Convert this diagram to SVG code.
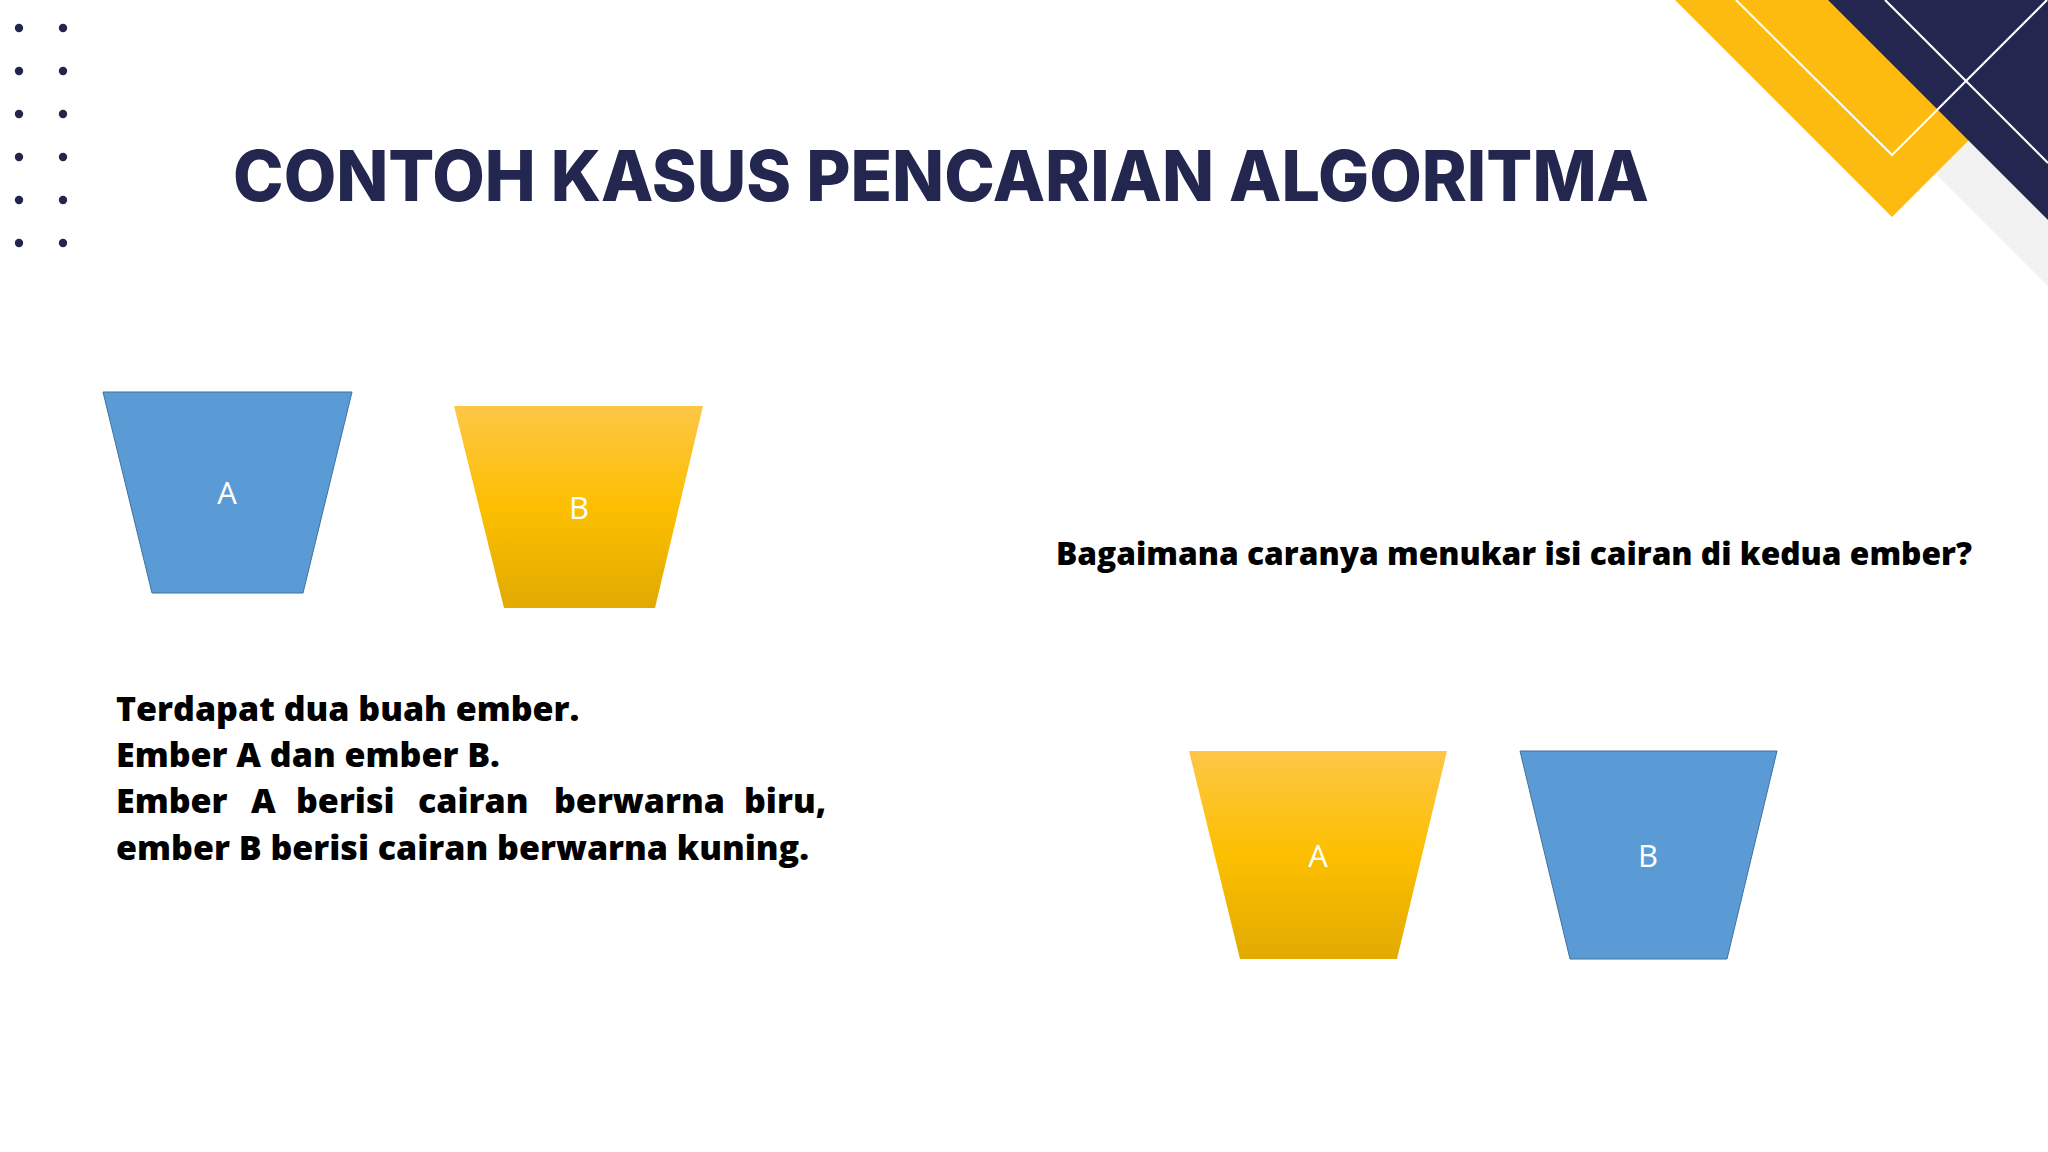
<svg xmlns="http://www.w3.org/2000/svg" width="2048" height="1152" viewBox="0 0 2048 1152">
  <defs>
    <linearGradient id="gold" x1="0" y1="0" x2="0" y2="1">
      <stop offset="0" stop-color="#fdc646"/>
      <stop offset="0.5" stop-color="#fcbf00"/>
      <stop offset="1" stop-color="#e1aa00"/>
    </linearGradient>
    <style>
      .dot { fill: #23254d; }
      .blue { fill: #5b9bd5; stroke: #41719c; stroke-width: 1; }
      .gold { fill: url(#gold); }
      .lbl { font-family: "Open Sans", "Liberation Sans", sans-serif; font-size: 31px; fill: #ffffff; text-anchor: middle; }
      .body { font-family: "Open Sans", "Liberation Sans", sans-serif; font-weight: 800; font-size: 34px; fill: #000000; }
      .q { font-family: "Open Sans", "Liberation Sans", sans-serif; font-weight: 800; font-size: 31.7px; fill: #000000; }
      .title { font-family: "Inter", "Lato", sans-serif; font-weight: 800; font-size: 70px; fill: #23264f; }
      .wline { fill: none; stroke: #ffffff; stroke-width: 2.2; }
    </style>
  </defs>
  <rect x="0" y="0" width="2048" height="1152" fill="#ffffff"/>

  <g id="dots">
    <circle class="dot" cx="19" cy="28" r="4.2"/><circle class="dot" cx="63" cy="28" r="4.2"/>
    <circle class="dot" cx="19" cy="71" r="4.2"/><circle class="dot" cx="63" cy="71" r="4.2"/>
    <circle class="dot" cx="19" cy="114" r="4.2"/><circle class="dot" cx="63" cy="114" r="4.2"/>
    <circle class="dot" cx="19" cy="157" r="4.2"/><circle class="dot" cx="63" cy="157" r="4.2"/>
    <circle class="dot" cx="19" cy="200" r="4.2"/><circle class="dot" cx="63" cy="200" r="4.2"/>
    <circle class="dot" cx="19" cy="243" r="4.2"/><circle class="dot" cx="63" cy="243" r="4.2"/>
  </g>

  <g id="corner-decoration">
    <polygon points="1762,0 2048,286 2048,0" fill="#f2f2f2"/>
    <polygon points="1675,0 2109,0 1892,217" fill="#fdba0f"/>
    <polygon points="1828,0 2048,0 2048,220" fill="#23264f"/>
    <polyline class="wline" points="1736,0 1892,155 2047,0"/>
    <line class="wline" x1="1885" y1="0" x2="2048" y2="163"/>
  </g>

  <g id="title">
    <text class="title" x="233" y="201" textLength="1416" lengthAdjust="spacingAndGlyphs">CONTOH KASUS PENCARIAN ALGORITMA</text>
  </g>

  <g id="bucket-a-blue">
    <polygon class="blue" points="103,392 352,392 303,593 152,593"/>
    <text class="lbl" x="227" y="504">A</text>
  </g>
  <g id="bucket-b-gold">
    <polygon class="gold" points="454,406 703,406 655,608 504,608"/>
    <text class="lbl" x="579" y="519">B</text>
  </g>

  <g id="description">
    <text class="body" x="116" y="721">Terdapat dua buah ember.</text>
    <text class="body" x="116" y="767">Ember A dan ember B.</text>
    <text class="body" y="813"><tspan x="116">Ember</tspan> <tspan x="251">A</tspan> <tspan x="296">berisi</tspan> <tspan x="418">cairan</tspan> <tspan x="554">berwarna</tspan> <tspan x="744">biru,</tspan></text>
    <text class="body" x="116" y="860">ember B berisi cairan berwarna kuning.</text>
  </g>

  <g id="question">
    <text class="q" x="1056" y="565">Bagaimana caranya menukar isi cairan di kedua ember?</text>
  </g>

  <g id="bucket-a-gold">
    <polygon class="gold" points="1189,751 1447,751 1397,959 1240,959"/>
    <text class="lbl" x="1318" y="867">A</text>
  </g>
  <g id="bucket-b-blue">
    <polygon class="blue" points="1520,751 1777,751 1727,959 1570,959"/>
    <text class="lbl" x="1648" y="867">B</text>
  </g>

  <g id="connectors"></g>
</svg>
